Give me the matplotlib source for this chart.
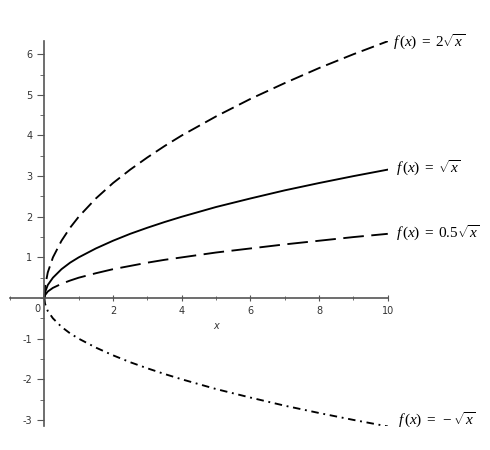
import matplotlib
matplotlib.use('Agg')
import matplotlib.pyplot as plt
from matplotlib.ticker import MultipleLocator

# values
xs = [0.0, 0.02, 0.1, 0.25, 0.5, 0.75, 1.0, 1.5, 2.0, 2.5, 3.0, 3.5, 4.0, 5.0, 6.0, 7.0, 8.0, 9.0, 10.0]
y_root = [0.0, 0.14, 0.32, 0.5, 0.71, 0.87, 1.0, 1.22, 1.41, 1.58, 1.73, 1.87, 2.0, 2.24, 2.45, 2.65, 2.83, 3.0, 3.16]
y_double = [0.0, 0.28, 0.63, 1.0, 1.41, 1.73, 2.0, 2.45, 2.83, 3.16, 3.46, 3.74, 4.0, 4.47, 4.9, 5.29, 5.66, 6.0, 6.32]
y_half = [0.0, 0.07, 0.16, 0.25, 0.35, 0.43, 0.5, 0.61, 0.71, 0.79, 0.87, 0.94, 1.0, 1.12, 1.22, 1.32, 1.41, 1.5, 1.58]
y_neg = [0.0, -0.14, -0.32, -0.5, -0.71, -0.87, -1.0, -1.22, -1.41, -1.58, -1.73, -1.87, -2.0, -2.24, -2.45, -2.65, -2.83, -3.0, -3.16]

labels = [r'$f\,(x)\;=\;2\sqrt{x}$', r'$f\,(x)\;=\;\sqrt{x}$',
          r'$f\,(x)\;=\;0.5\sqrt{x}$', r'$f\,(x)\;=\;-\sqrt{x}$']

plt.rcParams['mathtext.fontset'] = 'custom'
plt.rcParams['mathtext.rm'] = 'Liberation Serif'
plt.rcParams['mathtext.it'] = 'Liberation Serif:italic'
plt.rcParams['axes.unicode_minus'] = False

fig = plt.figure(figsize=(4.9, 4.5), dpi=100)
ax = fig.add_axes([0.0204, 0.0533, 0.771, 0.856])

lw = 1.35
ax.plot(xs, y_double, color='black', lw=lw, dashes=(7, 3.2))
ax.plot(xs, y_root, color='black', lw=lw)
ax.plot(xs, y_half, color='black', lw=lw, dashes=(11, 4))
ax.plot(xs, y_neg, color='black', lw=lw, dashes=(4, 2.5, 1, 2.5))

ax.set_xlim(-1.0, 10.0)
ax.set_ylim(-3.15, 6.33)

for s in ['top', 'right']:
    ax.spines[s].set_visible(False)
ax.spines['left'].set_position(('data', 0))
ax.spines['bottom'].set_position(('data', 0))
for s in ['left', 'bottom']:
    ax.spines[s].set_color('#555555')
    ax.spines[s].set_linewidth(1.2)

ax.xaxis.set_minor_locator(MultipleLocator(1))
ax.yaxis.set_minor_locator(MultipleLocator(0.5))
ax.set_xticks([2, 4, 6, 8, 10])
ax.set_yticks([-3, -2, -1, 1, 2, 3, 4, 5, 6])
ax.tick_params(axis='x', which='both', direction='inout', colors='#555555', labelcolor='#333333', labelsize=7)
ax.tick_params(axis='y', which='both', direction='out', colors='#555555', labelcolor='#333333', labelsize=7)
ax.tick_params(which='major', length=5)
ax.tick_params(which='minor', length=3)

ax.text(-0.1, -0.15, '0', ha='right', va='top', fontsize=7, color='#333333')
ax.text(5.0, -0.7, 'x', ha='center', va='center', fontsize=7, style='italic', color='#333333')

label_pos = [(10.15, 6.3), (10.25, 3.2), (10.25, 1.6), (10.3, -3.0)]
for lab, (lx, ly) in zip(labels, label_pos):
    ax.text(lx, ly, lab, fontsize=11, ha='left', va='center', clip_on=False)

fig.savefig('out.png', dpi=100)
